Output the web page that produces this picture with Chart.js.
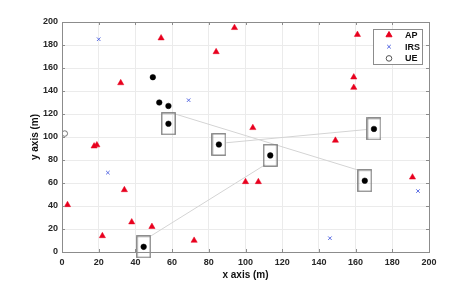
<!DOCTYPE html>
<html>
<head>
<meta charset="utf-8">
<script src="https://cdn.jsdelivr.net/npm/chart.js@4/dist/chart.umd.min.js"></script>
<style>
  html, body { margin: 0; padding: 0; background: #fff; }
  #wrap { width: 474px; height: 283px; position: relative; }
</style>
</head>
<body>
<div id="wrap"><canvas id="grafico"></canvas></div>
<script>
// valores (metros)
const apX  = [3, 17.5, 19, 22, 32, 34, 38, 49, 54, 72, 84, 94, 100, 104, 107, 149, 159, 159, 161, 191];
const apY  = [41, 92, 93, 14, 147, 54, 26, 22, 186, 10, 174, 195, 61, 108, 61, 97, 152, 143, 189, 65];
const irsX = [20, 25, 69, 146, 194];
const irsY = [185, 69, 132, 12, 53];
const ueX  = [1.5];
const ueY  = [103];
// UEs ativos (pontos pretos)
const ativoX = [49.5, 53, 58, 58, 85.5, 113.5, 165, 170, 44.5];
const ativoY = [152, 130, 127, 111.5, 93.5, 84, 62, 107, 4.5];
// UEs com caixa
const caixaX = [58, 85.5, 113.5, 165, 170, 44.5];
const caixaY = [111.5, 93.5, 84, 62, 107, 4.5];
// ligações (início -> fim)
const ligX = [[61.7, 160.8], [89.5, 166], [48.5, 110.8]];
const ligY = [[120, 71.5], [95, 106.5], [14, 76]];
const ticksXY = [0, 20, 40, 60, 80, 100, 120, 140, 160, 180, 200];

const pts = (xs, ys) => xs.map((x, i) => ({ x: x, y: ys[i] }));

const FONT = "'Liberation Sans', Arial, sans-serif";
const TICK_COLOR = '#262626';
const GRID_COLOR = '#ebebeb';
const FRAME_COLOR = '#8c8c8c';
const RED = '#e8001e';
const BLUE = '#4a5ee0';

// caixa cinza como pointStyle
const caixa = document.createElement('canvas');
caixa.width = 15; caixa.height = 23;
(function () {
    const c = caixa.getContext('2d');
    c.strokeStyle = '#7a7a7a';
    c.lineWidth = 1.3;
    c.strokeRect(0.8, 0.8, 13.4, 21.4);
})();

const ligDatasets = ligX.map((xs, i) => ({
    type: 'line',
    label: 'lig' + i,
    data: pts(xs, ligY[i]),
    borderColor: '#d4d4d4',
    borderWidth: 1,
    pointRadius: 0,
    showLine: true,
    order: 5
}));

const molduraLegenda = {
    id: 'molduraLegenda',
    afterDraw(chart) {
        const ctx = chart.ctx;
        const a = chart.chartArea;
        const sx = chart.scales.x, sy = chart.scales.y;
        ctx.save();
        // moldura + ticks internos
        ctx.strokeStyle = FRAME_COLOR;
        ctx.lineWidth = 1;
        ctx.beginPath();
        ticksXY.forEach(v => {
            const px = Math.round(sx.getPixelForValue(v)) + 0.5;
            ctx.moveTo(px, a.bottom); ctx.lineTo(px, a.bottom - 3);
            ctx.moveTo(px, a.top); ctx.lineTo(px, a.top + 3);
            const py = Math.round(sy.getPixelForValue(v)) + 0.5;
            ctx.moveTo(a.left, py); ctx.lineTo(a.left + 3, py);
            ctx.moveTo(a.right, py); ctx.lineTo(a.right - 3, py);
        });
        ctx.stroke();
        ctx.strokeRect(Math.round(a.left) + 0.5, Math.round(a.top) + 0.5,
                       Math.round(a.right - a.left), Math.round(a.bottom - a.top));

        // legenda
        const lx = a.right - 56, ly = a.top + 7, lw = 49, lh = 35;
        ctx.fillStyle = '#fff';
        ctx.fillRect(lx, ly, lw, lh);
        ctx.strokeStyle = '#8c8c8c';
        ctx.strokeRect(lx + 0.5, ly + 0.5, lw, lh);
        const itens = [
            { t: 'AP',  style: 'triangle', r: 3.5, fill: RED, stroke: RED },
            { t: 'IRS', style: 'crossRot', r: 2.5, fill: BLUE, stroke: BLUE },
            { t: 'UE',  style: 'circle',   r: 2.8, fill: '#fff', stroke: '#555' }
        ];
        ctx.font = 'bold 9px ' + FONT;
        ctx.textBaseline = 'middle';
        itens.forEach((it, i) => {
            const y = ly + 6 + i * 11.7;
            ctx.fillStyle = it.fill;
            ctx.strokeStyle = it.stroke;
            ctx.lineWidth = 1;
            Chart.helpers.drawPoint(ctx, { pointStyle: it.style, radius: it.r, borderWidth: 1, rotation: 0 }, lx + 16, y);
            ctx.fillStyle = '#111';
            ctx.fillText(it.t, lx + 32, y + 0.5);
        });
        ctx.restore();
    }
};

new Chart(document.getElementById('grafico'), {
    type: 'scatter',
    data: {
        datasets: [
            ...ligDatasets,
            {
                label: 'caixa', data: pts(caixaX, caixaY),
                pointStyle: caixa, pointRadius: 7, clip: false, order: 4
            },
            {
                label: 'ativo', data: pts(ativoX, ativoY),
                pointStyle: 'circle', pointRadius: 2.8,
                backgroundColor: '#000', borderColor: '#000', borderWidth: 0.5, order: 3
            },
            {
                label: 'AP', data: pts(apX, apY),
                pointStyle: 'triangle', pointRadius: 3.6,
                backgroundColor: RED, borderColor: RED, borderWidth: 0.5, order: 2
            },
            {
                label: 'IRS', data: pts(irsX, irsY),
                pointStyle: 'crossRot', pointRadius: 2.5,
                borderColor: BLUE, borderWidth: 0.9, order: 2
            },
            {
                label: 'UE', data: pts(ueX, ueY),
                pointStyle: 'circle', pointRadius: 2.8,
                backgroundColor: '#fff', borderColor: '#555', borderWidth: 0.8, order: 2
            }
        ]
    },
    options: {
        responsive: true,
        maintainAspectRatio: false,
        animation: false,
        layout: { padding: { left: 25, top: 22, right: 45, bottom: 0 } },
        plugins: {
            legend: { display: false },
            tooltip: { enabled: false }
        },
        scales: {
            x: {
                type: 'linear', min: 0, max: 200,
                afterFit: s => { s.height = 31; },
                afterBuildTicks: s => { s.ticks = ticksXY.map(v => ({ value: v })); },
                ticks: { color: TICK_COLOR, padding: 5, font: { size: 9, weight: 'bold', family: FONT } },
                grid: { color: GRID_COLOR, drawTicks: false },
                border: { display: false },
                title: {
                    display: true, text: 'x axis (m)', color: '#111',
                    font: { size: 10, weight: 'bold', family: FONT },
                    padding: { top: 0, bottom: 2 }
                }
            },
            y: {
                type: 'linear', min: 0, max: 200,
                afterFit: s => { s.width = 37; },
                afterBuildTicks: s => { s.ticks = ticksXY.map(v => ({ value: v })); },
                ticks: { color: TICK_COLOR, padding: 4, font: { size: 9, weight: 'bold', family: FONT } },
                grid: { color: GRID_COLOR, drawTicks: false },
                border: { display: false },
                title: {
                    display: true, text: 'y axis (m)', color: '#111',
                    font: { size: 10, weight: 'bold', family: FONT },
                    padding: { top: 4, bottom: 0 }
                }
            }
        }
    },
    plugins: [molduraLegenda]
});
</script>
</body>
</html>
